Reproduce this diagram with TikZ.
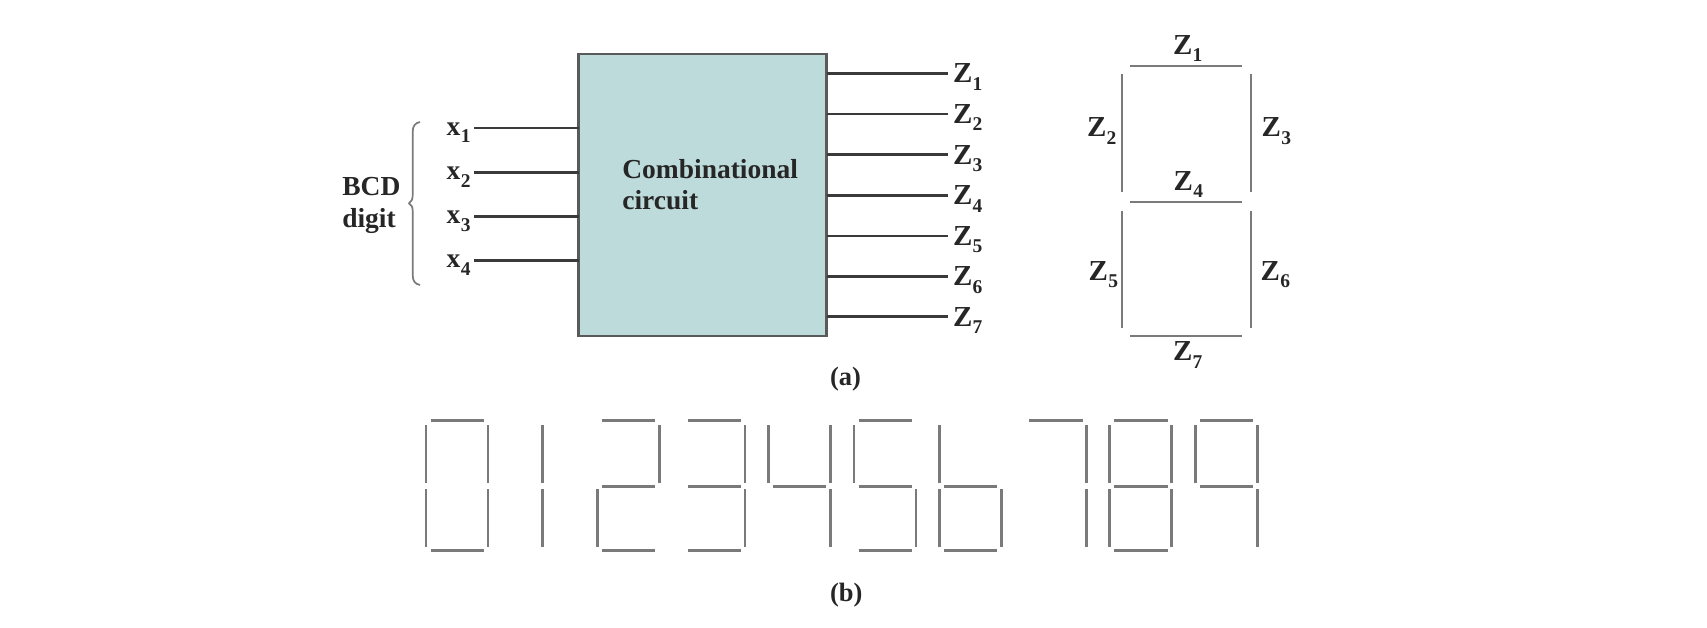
\documentclass[tikz,border=0pt]{standalone}
\usepackage{fontspec}
\setmainfont{Liberation Serif}
\definecolor{ink}{HTML}{262626}
\definecolor{wire}{HTML}{3A3A3A}
\definecolor{segc}{HTML}{7A7A7A}
\definecolor{boxfill}{HTML}{BEDBDB}
\definecolor{boxline}{HTML}{5A5A5A}
\newcommand{\lab}[2]{#1\kern0.3pt\raisebox{-7.5pt}{\fontsize{19.5}{19.5}\selectfont #2}}
\newcommand{\labZ}[1]{{\fontsize{29}{29}\selectfont Z}\kern0.3pt\raisebox{-7.5pt}{\fontsize{19.5}{19.5}\selectfont #1}}
\newcommand{\segT}[1]{\draw[segline] ({#1+4.6},420.3) -- ({#1+58},420.3);}
\newcommand{\segM}[1]{\draw[segline] ({#1+4.6},486.7) -- ({#1+58},486.7);}
\newcommand{\segB}[1]{\draw[segline] ({#1+4.6},550.3) -- ({#1+58},550.3);}
\newcommand{\segUL}[1]{\draw[segline] (#1,425) -- (#1,482.7);}
\newcommand{\segUR}[1]{\draw[segline] ({#1+62},425) -- ({#1+62},482.7);}
\newcommand{\segLL}[1]{\draw[segline] (#1,489.3) -- (#1,547);}
\newcommand{\segLR}[1]{\draw[segline] ({#1+62},489.3) -- ({#1+62},547);}
\newcommand{\dgt}[2]{\foreach \s in {#2}{\csname seg\s\endcsname{#1}}}
\tikzset{
  txt/.style={anchor=base west,inner sep=0pt,outer sep=0pt,text=ink,font=\fontsize{27.5}{27.5}\selectfont\bfseries},
  wireline/.style={draw=wire,line width=2.6pt},
  segline/.style={draw=segc,line width=2.6pt},
  bigseg/.style={draw=segc,line width=2.3pt},
}
\begin{document}
\begin{tikzpicture}[x=1pt,y=-1pt]
\useasboundingbox (0,0) rectangle (1707,627);
% circuit
\node[draw=boxline,fill=boxfill,line width=2.2pt,minimum width=248pt,minimum height=282pt,inner sep=0pt,outer sep=0pt,anchor=north west] (box) at (578.5,54) {};
\node[txt] (comb) at (622.3,178.3) {Combinational};
\node[txt] (circ) at (622.3,209.3) {circuit};
% inputs
\node[txt] (x1) at (446.7,135) {\lab{x}{1}};
\node[txt] (x2) at (446.7,179.5) {\lab{x}{2}};
\node[txt] (x3) at (446.7,223.5) {\lab{x}{3}};
\node[txt] (x4) at (446.7,267.7) {\lab{x}{4}};
\coordinate (i1) at (474,128);
\coordinate (i2) at (474,172.5);
\coordinate (i3) at (474,216.5);
\coordinate (i4) at (474,260.7);
\foreach \n in {1,2,3,4}{\draw[wireline] (i\n) -- (i\n -| box.west);}
% outputs
\node[txt] (z1) at (953,82.7) {\labZ{1}};
\node[txt] (z2) at (953,123.4) {\labZ{2}};
\node[txt] (z3) at (953,164.1) {\labZ{3}};
\node[txt] (z4) at (953,204.7) {\labZ{4}};
\node[txt] (z5) at (953,245.4) {\labZ{5}};
\node[txt] (z6) at (953,285.9) {\labZ{6}};
\node[txt] (z7) at (953,326.1) {\labZ{7}};
\coordinate (o1) at (947.7,73.3);
\coordinate (o2) at (947.7,114);
\coordinate (o3) at (947.7,154.7);
\coordinate (o4) at (947.7,195.3);
\coordinate (o5) at (947.7,236);
\coordinate (o6) at (947.7,276.5);
\coordinate (o7) at (947.7,316.7);
\foreach \n in {1,...,7}{\draw[wireline] (o\n -| box.east) -- (o\n);}
% brace
\draw[draw=segc,line width=1.7pt] (420,122) .. controls (415,123) and (412.7,126) .. (412.7,132)
  -- (412.7,195) .. controls (412.7,199) and (411.5,202) .. (409,203.3)
  .. controls (411.5,204.6) and (412.7,207) .. (412.7,211)
  -- (412.7,275) .. controls (412.7,281) and (415,284) .. (420,285);
\node[txt] (bcd) at (342.3,195.7) {BCD};
\node[txt] (dig) at (342.3,227.3) {digit};
\node[txt,font=\fontsize{26.5}{26.5}\selectfont\bfseries] (capa) at (830,385) {(a)};
\node[txt,font=\fontsize{26.5}{26.5}\selectfont\bfseries] (capb) at (830,601.7) {(b)};
% large display
\draw[bigseg] (1130,66) -- (1242,66);
\draw[bigseg] (1130,202.3) -- (1242,202.3);
\draw[bigseg] (1130,335.7) -- (1242,335.7);
\draw[bigseg] (1122,74.3) -- (1122,192.3);
\draw[bigseg] (1250.7,74.3) -- (1250.7,192.3);
\draw[bigseg] (1122,210.7) -- (1122,327.7);
\draw[bigseg] (1250.7,210.7) -- (1250.7,327.7);
\node[txt] (d1) at (1173,54.3) {\labZ{1}};
\node[txt] (d2) at (1087,136.7) {\labZ{2}};
\node[txt] (d3) at (1261.7,136.7) {\labZ{3}};
\node[txt] (d4) at (1173.7,190) {\labZ{4}};
\node[txt] (d5) at (1088.7,280) {\labZ{5}};
\node[txt] (d6) at (1260.7,280) {\labZ{6}};
\node[txt] (d7) at (1173,360.7) {\labZ{7}};
% digits
\dgt{426}{T,UL,UR,LL,LR,B}
\dgt{480.7}{UR,LR}
\dgt{597.3}{T,UR,M,LL,B}
\dgt{683}{T,UR,M,LR,B}
\dgt{768.3}{UL,UR,M,LR}
\dgt{854}{T,UL,M,LR,B}
\dgt{939.3}{UL,M,LL,LR,B}
\dgt{1024.7}{T,UR,LR}
\dgt{1109.7}{T,UL,UR,M,LL,LR,B}
\dgt{1195.3}{T,UL,UR,M,LR}
\end{tikzpicture}
\end{document}
